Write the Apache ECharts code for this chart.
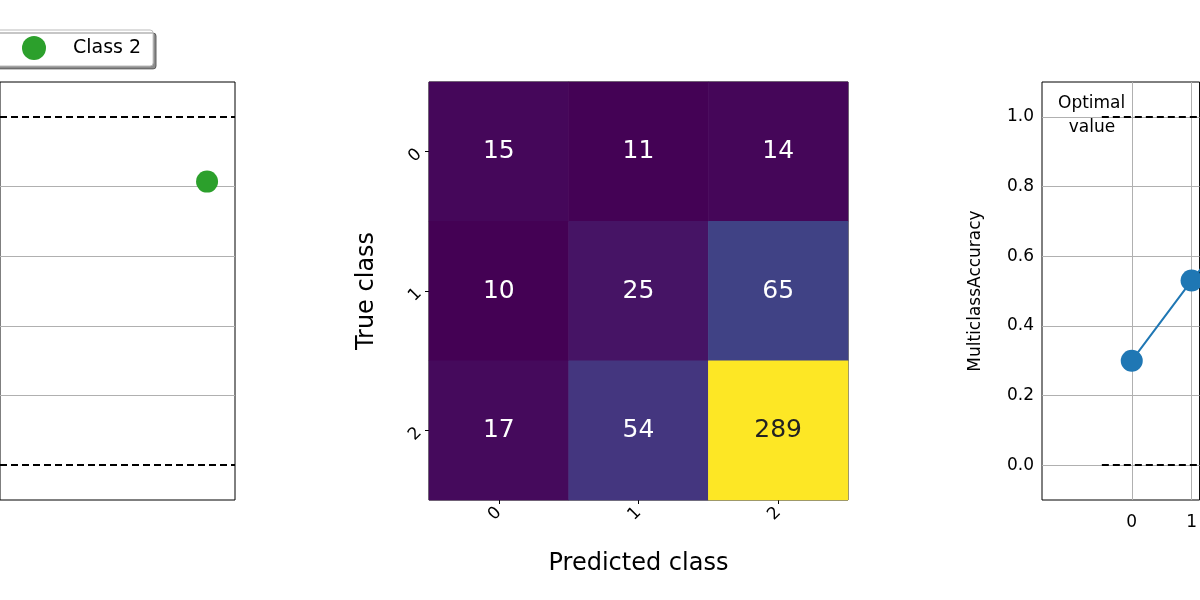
<!DOCTYPE html>
<html><head><meta charset="utf-8">
<script src="https://cdn.jsdelivr.net/npm/echarts@6/dist/echarts.min.js"></script>
<style>html,body{margin:0;padding:0;background:#fff}#c{width:1200px;height:600px}</style>
</head><body><div id="c"></div>
<script>
const classLabels = ['0', '1', '2'];
const confusion = [ // [true][pred]
  [15, 11, 14],
  [10, 25, 65],
  [17, 54, 289]
];
const class2Point = [[2, 0.814]];
const accuracyX = [0, 1, 2];
const accuracyY = [0.30, 0.53, 0.75];
const yTicks = [0, 0.2, 0.4, 0.6, 0.8, 1.0];
const xTicks = [0, 1];
const viridis = ['#440154','#482878','#3e4989','#31688e','#26828e','#1f9e89','#35b779','#6ece58','#b5de2b','#fde725'];

const heatData = [];
confusion.forEach((row, t) => row.forEach((v, p) => heatData.push(p === 2 && t === 2 ? {value: [p, t, v], label: {color: '#222'}} : [p, t, v])));
const ff = 'DejaVu Sans';
const tick = {show: true, length: 4, lineStyle: {color: '#000'}};
const lbl = {color: '#000', fontSize: 17, fontFamily: ff};
const gray = {color: '#b0b0b0', type: 'solid', width: 1};
const dash = {color: '#000', type: [7, 4], width: 2.2};

const chart = echarts.init(document.getElementById('c'));
chart.setOption({
  animation: false,
  textStyle: {fontFamily: ff},
  legend: {
    data: ['Class 2'], left: -28, top: 30, itemWidth: 24, itemHeight: 24,
    padding: [6, 12, 6, 50],
    backgroundColor: '#fff', borderColor: '#bbb', borderWidth: 1, borderRadius: 3,
    shadowColor: 'rgba(0,0,0,0.45)', shadowOffsetX: 3, shadowOffsetY: 3,
    textStyle: {fontSize: 19, color: '#000', fontFamily: ff, padding: [0, 0, 0, 22]}
  },
  grid: [
    {left: 0, width: 235, top: 82, height: 418, show: true, borderColor: '#000', borderWidth: 1},
    {left: 429, width: 419, top: 82, height: 418, show: true, borderColor: '#000', borderWidth: 1},
    {left: 1042, width: 158, top: 82, height: 418, show: true, borderColor: '#000', borderWidth: 1}
  ],
  xAxis: [
    {gridIndex: 0, type: 'value', min: 0, max: 2.27, axisLine: {show: false}, axisTick: {show: false}, axisLabel: {show: false}, splitLine: {show: false}},
    {gridIndex: 1, type: 'category', data: classLabels, name: 'Predicted class', nameLocation: 'middle', nameGap: 52,
     nameTextStyle: {fontSize: 24, color: '#000', fontFamily: ff},
     axisLine: {show: false}, axisTick: {show: true, alignWithLabel: true, length: 4, lineStyle: {color: '#000'}},
     axisLabel: Object.assign({}, lbl, {rotate: 45, margin: 10}), splitLine: {show: false}},
    {gridIndex: 2, type: 'value', min: -1.5, max: 1.133,
     axisLine: {show: false}, axisTick: Object.assign({customValues: xTicks}, tick),
     axisLabel: Object.assign({customValues: xTicks, margin: 14}, lbl),
     splitLine: {show: false}}
  ],
  yAxis: [
    {gridIndex: 0, type: 'value', min: -0.1, max: 1.1,
     axisLine: {show: false}, axisTick: {show: false}, axisLabel: {show: false}, splitLine: {show: false}},
    {gridIndex: 1, type: 'category', data: classLabels, inverse: true, name: 'True class', nameLocation: 'middle', nameGap: 50,
     nameTextStyle: {fontSize: 24, color: '#000', fontFamily: ff},
     axisLine: {show: false}, axisTick: {show: true, alignWithLabel: true, length: 4, lineStyle: {color: '#000'}},
     axisLabel: Object.assign({}, lbl, {rotate: 45, margin: 10}), splitLine: {show: false}},
    {gridIndex: 2, type: 'value', min: -0.1, max: 1.1, name: 'MulticlassAccuracy', nameLocation: 'middle', nameGap: 58,
     nameTextStyle: {fontSize: 17, color: '#000', fontFamily: ff},
     axisLine: {show: false},
     axisTick: Object.assign({customValues: yTicks}, tick),
     axisLabel: Object.assign({customValues: yTicks, margin: 8, formatter: v => v.toFixed(1)}, lbl),
     splitLine: {show: false}}
  ],
  visualMap: {show: false, min: 10, max: 289, seriesIndex: 1, inRange: {color: viridis}},
  series: [
    {name: 'Class 2', type: 'scatter', xAxisIndex: 0, yAxisIndex: 0, data: class2Point, symbolSize: 22, z: 5,
     itemStyle: {color: '#2ca02c', opacity: 1},
     markLine: {silent: true, symbol: 'none', label: {show: false},
       data: yTicks.map(v => ({yAxis: v, lineStyle: (v === 0 || v === 1) ? dash : gray}))}},
    {type: 'heatmap', xAxisIndex: 1, yAxisIndex: 1, data: heatData,
     label: {show: true, fontSize: 25, fontFamily: ff, color: '#fff', formatter: p => p.value[2]}},
    {type: 'line', xAxisIndex: 2, yAxisIndex: 2, data: accuracyX.map((x, i) => [x, accuracyY[i]]), z: 5,
     symbol: 'circle', symbolSize: 22, lineStyle: {color: '#1f77b4', width: 2}, itemStyle: {color: '#1f77b4'},
     markLine: {silent: true, symbol: 'none', label: {show: false},
       data: yTicks.map(v => ({yAxis: v, lineStyle: gray}))
         .concat(xTicks.map(v => ({xAxis: v, lineStyle: gray})))
         .concat([[{coord: [-0.5, 1], lineStyle: dash}, {coord: [1.133, 1]}], [{coord: [-0.5, 0], lineStyle: dash}, {coord: [1.133, 0]}]])}}
  ],
  graphic: [
    {type: 'text', left: 1058, top: 92, style: {text: 'Optimal\n  value', font: '17px "DejaVu Sans"', fill: '#000', lineHeight: 24}}
  ]
});
</script></body></html>
